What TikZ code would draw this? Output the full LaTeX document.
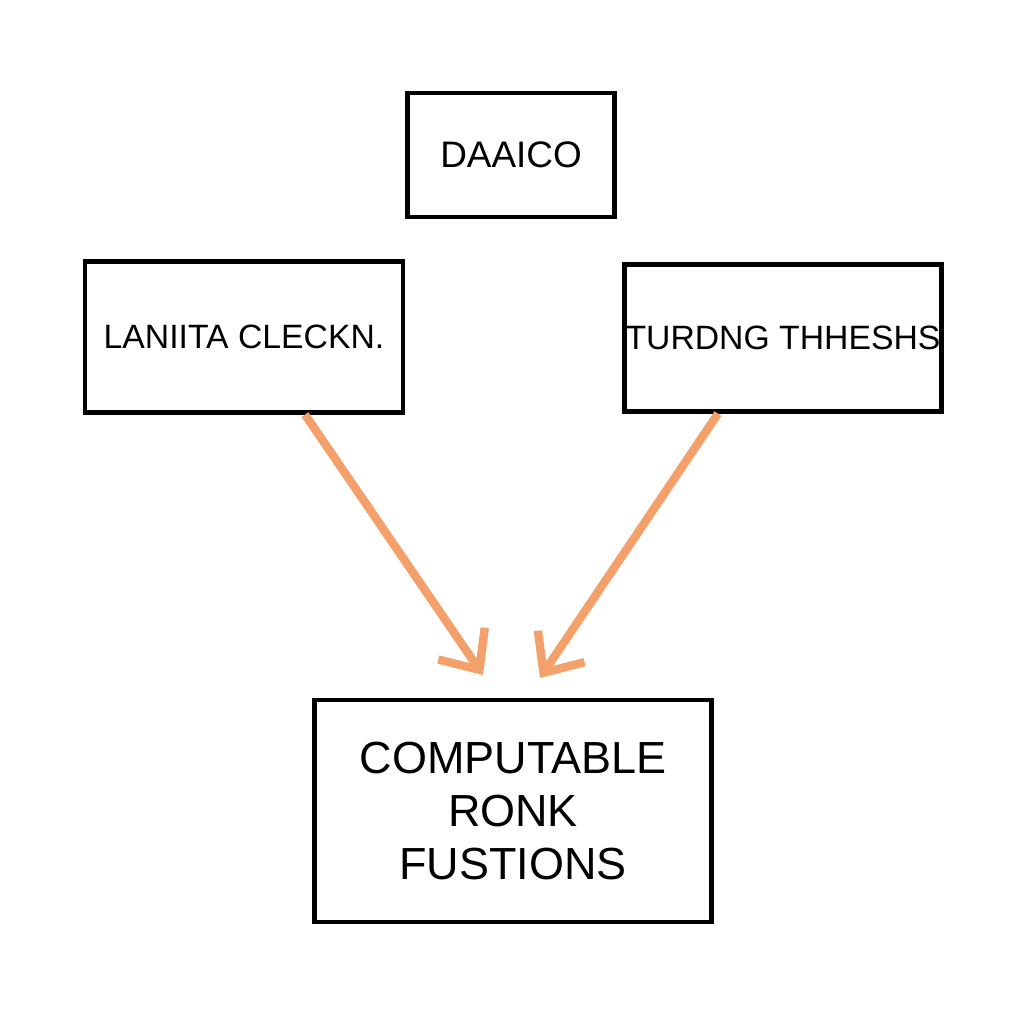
\documentclass[tikz,border=0pt]{standalone}
\usepackage{fontspec}
\setmainfont{Liberation Sans}
\usetikzlibrary{arrows.meta}
\definecolor{arrowor}{HTML}{F4A06A}
\begin{document}
\begin{tikzpicture}[
    box/.style={draw, line width=1.2pt, inner sep=0pt, align=center},
    flow/.style={draw=arrowor, line width=2.4pt, -{Straight Barb[length=9pt, width=16pt]}}]
  \useasboundingbox (0,0) rectangle (10.24,10.24);
  % -- boxes
  \node[box, minimum width=2.07cm, minimum height=1.24cm, font=\fontsize{10.5}{13}\selectfont] (daaico) at (5.11, 8.69) {DAAICO};
  \node[box, minimum width=3.18cm, minimum height=1.51cm, font=\fontsize{9.6}{12}\selectfont] (lanita) at (2.44, 6.87) {LANIITA CLECKN.};
  \node[box, minimum width=3.17cm, minimum height=1.47cm, font=\fontsize{9.6}{12}\selectfont] (turdng) at (7.83, 6.86) {TURDNG THHESHS};
  \node[box, minimum width=3.97cm, minimum height=2.22cm, font=\fontsize{12.8}{16}\selectfont] (comp) at (5.13, 2.13) {COMPUTABLE\\[-1pt]RONK\\[-1pt]FUSTIONS};
  % -- arrow ends
  \coordinate (lend) at (4.83, 3.49);
  \coordinate (rend) at (5.40, 3.46);
  % -- arrows
  \draw[flow] (lanita.south) ++(0.61,0) -- (lend);
  \draw[flow] (turdng.south) ++(-0.65,0) -- (rend);
\end{tikzpicture}
\end{document}
